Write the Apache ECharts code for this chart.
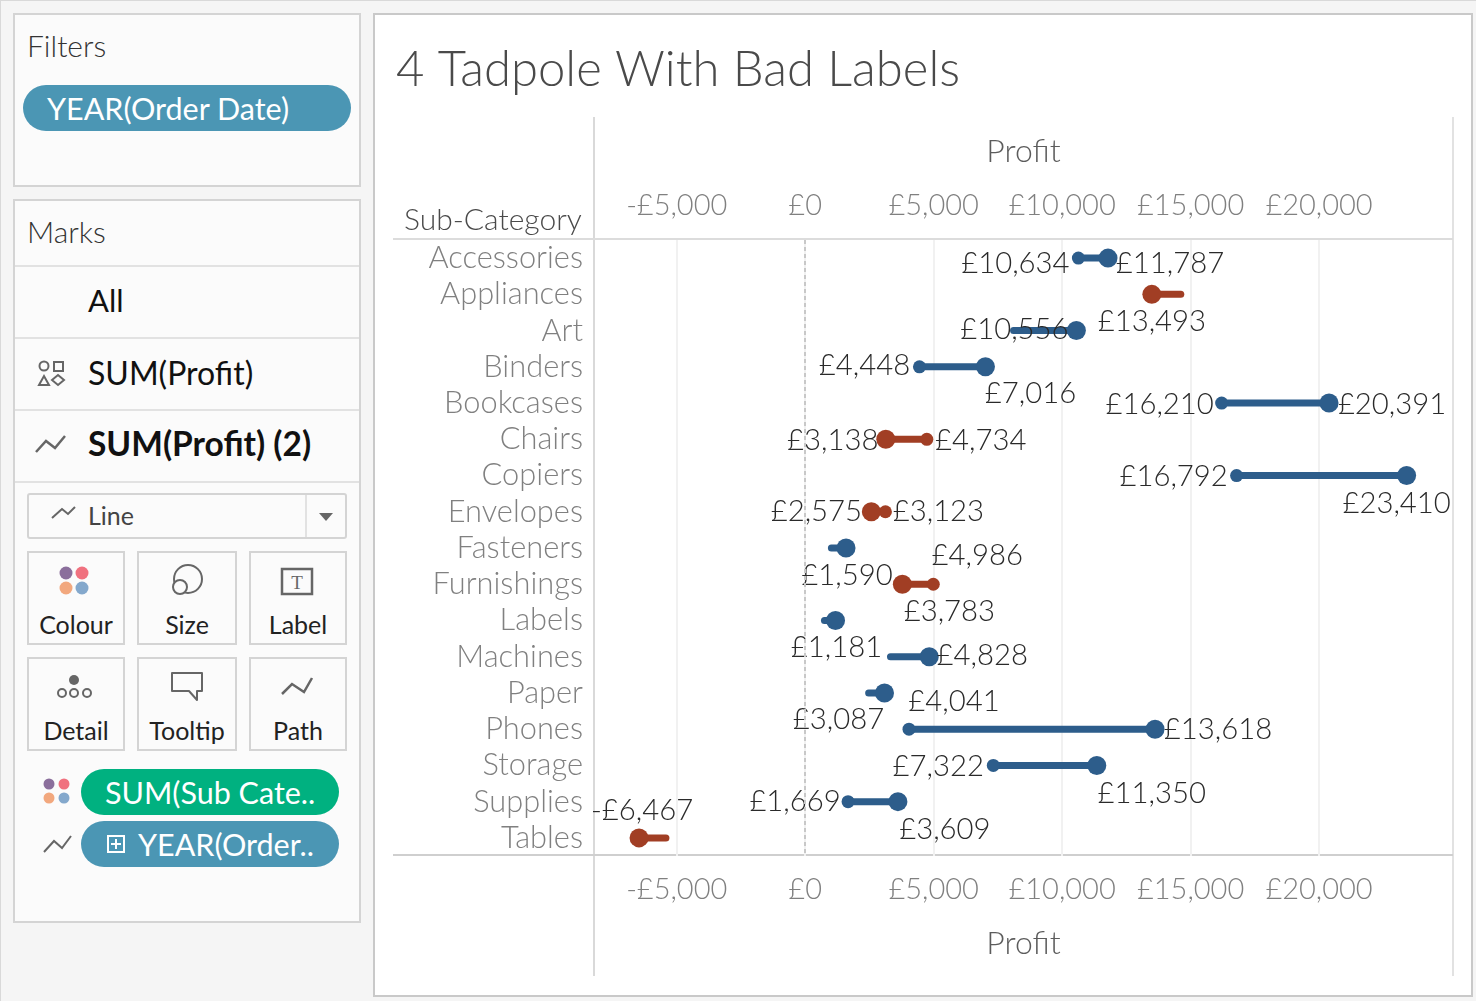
<!DOCTYPE html>
<html>
<head>
<meta charset="utf-8">
<title>4 Tadpole With Bad Labels</title>
<script src="https://cdn.jsdelivr.net/npm/echarts@6/dist/echarts.min.js"></script>
<style>
  html, body { margin: 0; padding: 0; background: #f5f5f5; }
  body { width: 1476px; height: 1001px; position: relative; overflow: hidden; font-family: Lato, sans-serif; color: #333; }
  .box { position: absolute; box-sizing: border-box; background: #fbfbfb; border: 2px solid #d4d4d4; }
  .t { position: absolute; white-space: nowrap; line-height: 1; transform: translateY(-50%); }
  .sep { position: absolute; left: 15px; width: 344px; height: 2px; background: #e2e2e2; }
  .pill { position: absolute; height: 46px; border-radius: 23px; color: #fff; font-size: 30.5px; line-height: 46px; white-space: nowrap; box-sizing: border-box; }
  .btn { position: absolute; box-sizing: border-box; border: 2px solid #d4d4d4; top: 0; height: 94px; font-size: 25px; color: #222; text-align: center; line-height: 1; }
  .btn span { position: absolute; left: 0; right: 0; top: 59px; }
  svg { position: absolute; left: 0; top: 0; overflow: visible; }
  #chart { position: absolute; left: 0; top: 0; width: 1476px; height: 1001px; }
</style>
</head>
<body>
<div style="position:absolute;left:0;top:0;width:1476px;height:1px;background:#d9d9d9"></div>
<div style="position:absolute;left:0;top:0;width:1px;height:1001px;background:#d9d9d9"></div>

<div class="box" style="left:13px;top:13px;width:348px;height:174px"></div>
<div class="t" style="left:27px;top:45px;font-size:30px;font-weight:300;color:#333">Filters</div>
<div class="pill" style="left:23px;top:85px;width:328px;background:#4b96b4;padding-left:24px">YEAR(Order Date)</div>

<div class="box" style="left:13px;top:199px;width:348px;height:724px"></div>
<div class="t" style="left:27px;top:231px;font-size:30px;font-weight:300;color:#333">Marks</div>
<div class="sep" style="top:265px"></div>
<div class="sep" style="top:337px"></div>
<div class="sep" style="top:409px"></div>
<div class="sep" style="top:481px"></div>
<div class="t" style="left:88px;top:300px;font-size:31px;color:#111">All</div>
<div class="t" style="left:88px;top:373px;font-size:32px;color:#111">SUM(Profit)</div>
<div class="t" style="left:88px;top:444px;font-size:33.5px;font-weight:700;color:#111">SUM(Profit) (2)</div>

<div class="box" style="left:27px;top:493px;width:320px;height:46px;border-radius:3px"></div>
<div style="position:absolute;left:305px;top:495px;width:2px;height:42px;background:#e2e2e2"></div>
<div class="t" style="left:88px;top:515px;font-size:25px;color:#444">Line</div>

<div style="position:absolute;left:0;top:551px">
  <div class="btn" style="left:27px;width:98px"><span>Colour</span></div>
  <div class="btn" style="left:137px;width:100px"><span>Size</span></div>
  <div class="btn" style="left:249px;width:98px"><span>Label</span></div>
</div>
<div style="position:absolute;left:0;top:657px">
  <div class="btn" style="left:27px;width:98px"><span>Detail</span></div>
  <div class="btn" style="left:137px;width:100px"><span>Tooltip</span></div>
  <div class="btn" style="left:249px;width:98px"><span>Path</span></div>
</div>

<div class="pill" style="left:81px;top:769px;width:258px;background:#00b180;padding-left:24px">SUM(Sub Cate..</div>
<div class="pill" style="left:81px;top:821px;width:258px;background:#4b96b4;padding-left:57px">YEAR(Order..</div>

<svg width="1476" height="1001" fill="none" stroke="#666" stroke-width="2">
  <!-- shelf icons -->
  <circle cx="44" cy="366" r="4.5"/><rect x="54" y="362" width="9" height="9"/>
  <path d="M39 385 L44 376 L49 385 Z"/><path d="M58 375 L64 380 L58 385 L52 380 Z"/>
  <path d="M36 452 L46 441 L55 448 L65 436" stroke-width="2.5"/>
  <path d="M52 518 L62 509 L68 514 L75 507"/>
  <path d="M319 513 L333 513 L326 521 Z" fill="#666" stroke="none"/>
  <circle cx="66" cy="573" r="6.5" fill="#8b6f9c" stroke="none"/><circle cx="82" cy="573" r="6.5" fill="#f0717f" stroke="none"/>
  <circle cx="66" cy="588" r="6.5" fill="#f2a87e" stroke="none"/><circle cx="82" cy="588" r="6.5" fill="#84a8cc" stroke="none"/>
  <circle cx="188" cy="579" r="14"/><circle cx="180" cy="587" r="7" fill="#fbfbfb"/>
  <rect x="282" y="569" width="30" height="25" stroke-width="2.5"/>
  <text x="297" y="589" text-anchor="middle" font-family="Liberation Serif" font-size="19" fill="#666" stroke="none">T</text>
  <circle cx="74" cy="680" r="5" fill="#666" stroke="none"/>
  <circle cx="62" cy="693" r="4"/><circle cx="74" cy="693" r="4"/><circle cx="87" cy="693" r="4"/>
  <path d="M172 673 H202 V691 H197 V700 L189 691 H172 Z" stroke-linejoin="round"/>
  <path d="M282 694 L292 684 L304 692 L312 678" stroke-width="2.5"/>
  <circle cx="49" cy="784" r="5.5" fill="#8b6f9c" stroke="none"/><circle cx="64" cy="784" r="5.5" fill="#f0717f" stroke="none"/>
  <circle cx="49" cy="798" r="5.5" fill="#f2a87e" stroke="none"/><circle cx="64" cy="798" r="5.5" fill="#84a8cc" stroke="none"/>
  <path d="M44 852 L54 841 L62 848 L71 836"/>
  <rect x="108" y="836" width="16" height="16" stroke="#fff"/>
  <path d="M116 839 V849 M111 844 H121" stroke="#fff"/>
</svg>

<div class="box" style="left:373px;top:13px;width:1100px;height:984px;background:#fff;border-color:#c9c9c9"></div>
<div id="chart"></div>

<script>
const categories = ["Accessories", "Appliances", "Art", "Binders", "Bookcases", "Chairs", "Copiers", "Envelopes",
    "Fasteners", "Furnishings", "Labels", "Machines", "Paper", "Phones", "Storage", "Supplies", "Tables"];
const startProfit = [10634, 14620, 8110, 4448, 16210, 4734, 16792, 3123, 1020, 4986, 750, 3320, 2470, 4041, 7322, 1669, -5420];
// latest year (head of the tadpole)
const endProfit = [11787, 13493, 10556, 7016, 20391, 3138, 23410, 2575, 1590, 3783, 1181, 4828, 3087, 13618, 11350, 3609, -6467];
const profitTicks = [-5000, 0, 5000, 10000, 15000, 20000];

// label centre relative to its mark, null = tail without dot or label
const startLabelAt = [[-63, 5], null, null, [-55, -1], [-62, 1], [54, 1], [-63, 1], [53, 0], null, [44, -29], null, null, null, [45, -28], [-55, 1], [-53, 0], null];
const endLabelAt = [[62, 5], [0, 27], [-62, -1], [45, 27], [63, 1], [-53, 1], [-10, 28], [-55, 0], [1, 28], [47, 27], [1, 27], [53, -1], [-46, 27], [63, 0], [55, 28], [47, 28], [3, -27]];

const BLUE = "#2d5d8b", RED = "#a13e24";
const FONT = "Lato";
const money = v => (v < 0 ? "-£" : "£") + Math.abs(v).toLocaleString("en-GB");

const endPoint = (value, row, size, at, color) => ({
    value: [value, row],
    symbol: at === null && size < 18 ? "none" : "circle",
    symbolSize: size,
    itemStyle: { color },
    label: at ? {
        show: true, position: "inside", align: "center", verticalAlign: "middle", offset: at,
        formatter: money(value), color: "#2a2a2a", fontFamily: FONT, fontSize: 29.3, fontWeight: 300
    } : { show: false }
});

const series = categories.map((name, i) => {
    const color = endProfit[i] >= startProfit[i] ? BLUE : RED;
    return {
        type: "line", name, silent: true, animation: false, z: 3,
        lineStyle: { color, width: 7, cap: "round" },
        data: [
            endPoint(startProfit[i], name, 13, startLabelAt[i], color),
            endPoint(endProfit[i], name, 19, endLabelAt[i], color)
        ]
    };
});
// the dashed line at zero
series[0].markLine = {
    silent: true, animation: false, symbol: "none", label: { show: false },
    lineStyle: { color: "#c8c8c8", type: [4, 3], width: 2 }, data: [{ xAxis: 0 }]
};

const profitAxis = (position, nameGap, margin) => ({
    type: "value", position, min: -8220, max: 25215,
    name: "Profit", nameLocation: "middle", nameGap,
    nameTextStyle: { color: "#5c5c5c", fontFamily: FONT, fontSize: 32, fontWeight: 300 },
    axisLine: { show: false },
    axisTick: { show: false, customValues: profitTicks },
    axisLabel: { customValues: profitTicks, formatter: money, margin, color: "#808080", fontFamily: FONT, fontSize: 29, fontWeight: 300 },
    splitLine: { show: true, lineStyle: { color: "#f1f1f1", width: 2 } }
});

const rule = (x1, y1, x2, y2, stroke) => ({
    type: "line", shape: { x1, y1, x2, y2 }, style: { stroke, lineWidth: 2 }, silent: true
});

const chart = echarts.init(document.getElementById("chart"), null, { width: 1476, height: 1001 });
chart.setOption({
    animation: false,
    backgroundColor: "transparent",
    title: {
        text: "4 Tadpole With Bad Labels", left: 391, top: 41,
        textStyle: { color: "#4a4a4a", fontFamily: FONT, fontSize: 49, fontWeight: 300 }
    },
    grid: { left: 594, top: 240, width: 859, height: 616 },
    xAxis: [profitAxis("bottom", 72, 19), profitAxis("top", 72, 20)],
    yAxis: {
        type: "category", data: categories, inverse: true,
        axisLine: { show: false }, axisTick: { show: false },
        axisLabel: { interval: 0, margin: 11, color: "#808080", fontFamily: FONT, fontSize: 30.8, fontWeight: 300 },
        splitLine: { show: false }
    },
    graphic: [
        rule(594, 117, 594, 976, "#d9d9d9"),
        rule(1453, 117, 1453, 976, "#e2e2e2"),
        rule(393, 239, 1453, 239, "#dcdcdc"),
        rule(393, 855, 1453, 855, "#cfcfcf"),
        { type: "text", x: 404, y: 220, silent: true,
          style: { text: "Sub-Category", fill: "#4a4a4a", font: "300 30px " + FONT, textVerticalAlign: "middle" } }
    ],
    series
});
</script>
</body>
</html>
